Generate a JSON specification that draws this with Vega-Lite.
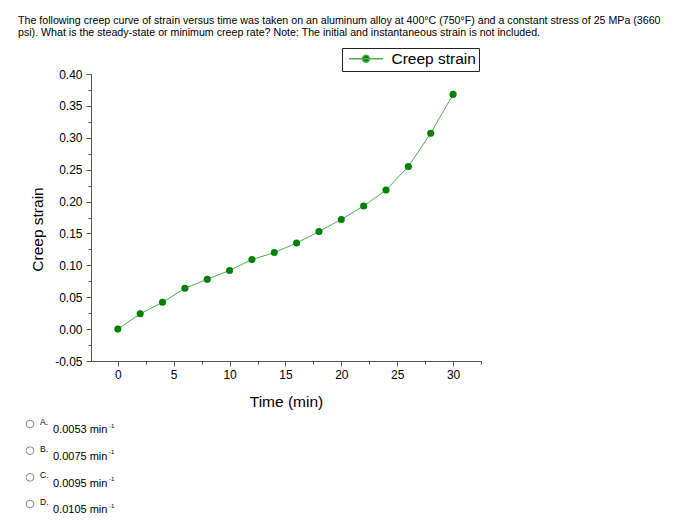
{
  "$schema": "https://vega.github.io/schema/vega-lite/v6.json",
  "background": "white",
  "padding": {"left": 18, "top": 15, "right": 5, "bottom": 5},
  "config": {"view": {"stroke": null}, "font": "Liberation Sans", "axis": {"grid": false}},
  "title": {
    "text": ["The following creep curve of strain versus time was taken on an aluminum alloy at 400°C (750°F) and a constant stress of 25 MPa (3660", "psi). What is the steady-state or minimum creep rate? Note: The initial and instantaneous strain is not included."],
    "anchor": "start", "frame": "group", "font": "Liberation Sans", "fontSize": 10.65, "fontWeight": "normal", "color": "#000", "lineHeight": 12, "offset": 8.5, "dx": -73
  },
  "spacing": 8,
  "vconcat": [
    {
      "width": 390,
      "height": 287,
      "data": {"values": [
        {"time": 0, "strain": 0.0},
        {"time": 2, "strain": 0.024},
        {"time": 4, "strain": 0.042},
        {"time": 6, "strain": 0.064},
        {"time": 8, "strain": 0.078},
        {"time": 10, "strain": 0.092},
        {"time": 12, "strain": 0.109},
        {"time": 14, "strain": 0.120},
        {"time": 16, "strain": 0.135},
        {"time": 18, "strain": 0.153},
        {"time": 20, "strain": 0.172},
        {"time": 22, "strain": 0.193},
        {"time": 24, "strain": 0.218},
        {"time": 26, "strain": 0.255},
        {"time": 28, "strain": 0.307},
        {"time": 30, "strain": 0.368}
      ]},
      "encoding": {
        "x": {
          "field": "time", "type": "quantitative",
          "scale": {"domain": [-2.4, 32.5], "nice": false, "zero": false},
          "axis": {
            "values": [0, 2.5, 5, 7.5, 10, 12.5, 15, 17.5, 20, 22.5, 25, 27.5, 30, 32.5],
            "labelExpr": "abs(datum.value/5 - round(datum.value/5)) < 0.001 ? format(datum.value, 'd') : ''",
            "tickSize": {"condition": {"test": "abs(datum.value/5 - round(datum.value/5)) < 0.001", "value": 5}, "value": 3},
            "labelFontSize": 12, "labelColor": "#000", "labelPadding": 3, "labelFlush": false, "labelOverlap": false,
            "domainColor": "#555", "tickColor": "#555",
            "title": "Time (min)", "titleFontSize": 15.5, "titleFontWeight": "normal", "titleColor": "#000",
            "titleY": 40, "titleBaseline": "middle"
          }
        },
        "y": {
          "field": "strain", "type": "quantitative",
          "scale": {"domain": [-0.05, 0.4], "nice": false, "zero": false},
          "axis": {
            "values": [-0.05, -0.025, 0, 0.025, 0.05, 0.075, 0.1, 0.125, 0.15, 0.175, 0.2, 0.225, 0.25, 0.275, 0.3, 0.325, 0.35, 0.375, 0.4],
            "labelExpr": "abs(datum.value*20 - round(datum.value*20)) < 0.001 ? (datum.value < -0.0001 ? '-' + format(-datum.value, '.2f') : format(abs(datum.value), '.2f')) : ''",
            "tickSize": {"condition": {"test": "abs(datum.value*20 - round(datum.value*20)) < 0.001", "value": 5}, "value": 3},
            "labelFontSize": 12, "labelColor": "#000", "labelPadding": 4, "labelFlush": false, "labelOverlap": false,
            "domainColor": "#555", "tickColor": "#555",
            "title": "Creep strain", "titleFontSize": 15.5, "titleFontWeight": "normal", "titleColor": "#000",
            "titleX": -53.5, "titleY": 155, "titleAlign": "center", "titleBaseline": "middle", "titleAngle": -90
          }
        }
      },
      "layer": [
        {"mark": {"type": "line", "color": "#4caf50", "strokeWidth": 1}},
        {
          "mark": {"type": "point", "filled": true, "size": 50, "opacity": 1, "shape": "circle"},
          "encoding": {
            "color": {
              "datum": "Creep strain", "type": "nominal",
              "scale": {"range": ["#008000"]},
              "legend": {
                "title": null, "orient": "none", "legendX": 251, "legendY": -26,
                "padding": 3, "strokeColor": "#222", "fillColor": "white",
                "symbolType": "M-2.15,0M-0.75,0H6.05M3.35,0A0.7,0.7,0,1,1,1.95,0A0.7,0.7,0,1,1,3.35,0Z",
                "symbolSize": 100, "symbolStrokeWidth": 1.5, "symbolStrokeColor": "#4caf50", "symbolFillColor": "#008000",
                "labelFontSize": 15.5, "labelColor": "#000", "labelOffset": 31, "labelFont": "Liberation Sans"
              }
            }
          }
        }
      ]
    },
    {
      "width": 150,
      "height": 80,
      "data": {"values": [
        {"opt": "A.", "rate": "0.0053 min", "i": 0},
        {"opt": "B.", "rate": "0.0075 min", "i": 1},
        {"opt": "C.", "rate": "0.0095 min", "i": 2},
        {"opt": "D.", "rate": "0.0105 min", "i": 3}
      ]},
      "encoding": {
        "y": {"field": "i", "type": "quantitative", "scale": {"domain": [0, 3], "reverse": true, "nice": false, "zero": false}, "axis": null},
        "x": {"datum": 0, "type": "quantitative", "scale": {"domain": [6.1, 21.1], "nice": false, "zero": false}, "axis": null}
      },
      "layer": [
        {"mark": {"type": "point", "shape": "circle", "filled": false, "size": 60, "stroke": "#8a8a8a", "strokeWidth": 1, "opacity": 1}},
        {"mark": {"type": "text", "align": "left", "baseline": "middle", "dx": 10, "dy": -2, "fontSize": 8.5, "color": "#000"}, "encoding": {"text": {"field": "opt"}}},
        {"mark": {"type": "text", "align": "left", "baseline": "alphabetic", "dx": 23, "dy": 9.3, "fontSize": 11, "color": "#000"}, "encoding": {"text": {"field": "rate"}}},
        {"mark": {"type": "text", "align": "left", "baseline": "middle", "dx": 79, "dy": 1.5, "fontSize": 6, "color": "#000", "text": "-1"}}
      ]
    }
  ]
}
